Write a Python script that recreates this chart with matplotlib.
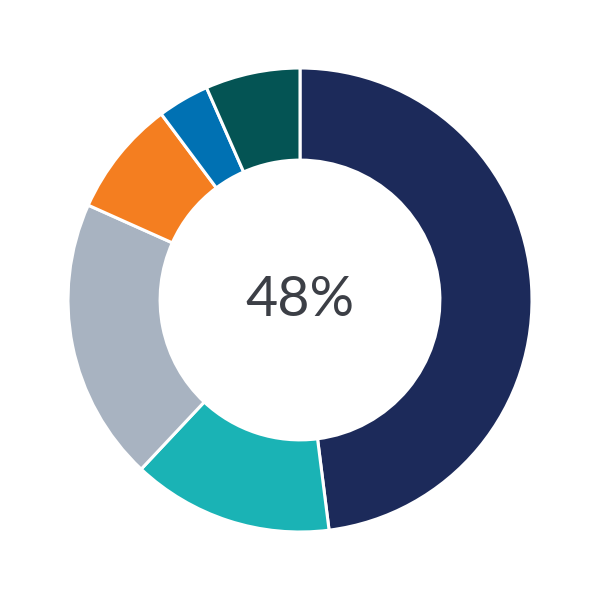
import matplotlib.pyplot as plt

labels = ['Navy', 'Teal', 'Gray', 'Orange', 'Blue', 'Green']
values = [48, 14, 19.7, 8.1, 3.6, 6.6]
colors = ['#1c2a5a', '#1ab3b5', '#a8b3c1', '#f47e20', '#0071b3', '#045454']
center_label = '48%'

fig = plt.figure(figsize=(6, 6), dpi=100)
ax = fig.add_axes([0, 0, 1, 1])
ax.pie(values, colors=colors, startangle=90, counterclock=False,
       radius=1.0, wedgeprops=dict(width=0.397, edgecolor='white', linewidth=2.2))
ax.text(0, 0, center_label, ha='center', va='center', fontsize=40,
        color='#3c3f46', family=['Lato', 'DejaVu Sans'], fontweight='normal')
lim = 300 / 232
ax.set_xlim(-lim, lim)
ax.set_ylim(-lim, lim)
ax.set_aspect('equal')
ax.axis('off')
fig.savefig('out.png', dpi=100)
